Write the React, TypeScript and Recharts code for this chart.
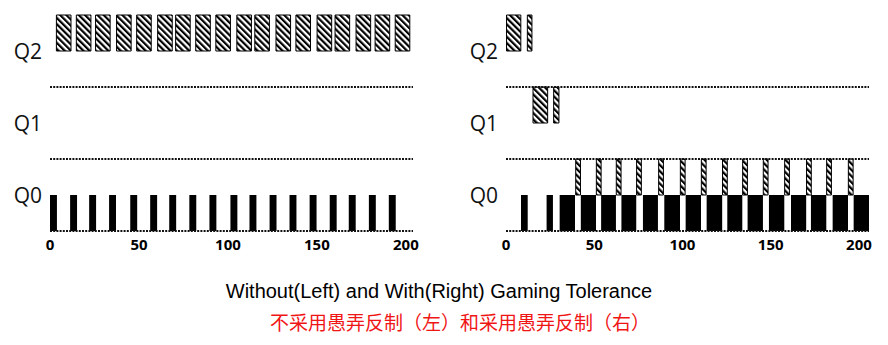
import React from 'react';
import { BarChart, Bar, XAxis, YAxis, Cell, ReferenceLine } from 'recharts';

// time slices as [start, end]; hatched = long-running job, solid = interactive job
const leftQ0Solid = [
  [0, 3.9], [11.3, 15.2], [22.0, 25.9], [33.2, 37.1], [45.1, 49.0], [56.3, 60.2],
  [67.0, 70.9], [78.3, 82.2], [89.6, 93.5], [101.4, 105.3], [112.1, 116.0], [123.4, 127.3],
  [134.6, 138.5], [145.9, 149.8], [157.2, 161.1], [167.9, 171.8], [179.2, 183.1], [190.4, 194.3],
];
const leftQ2Hatch = [
  [3.6, 11.8], [14.8, 23.0], [25.6, 33.8], [37.4, 45.6], [48.7, 56.9], [60.5, 68.7],
  [70.6, 78.8], [81.9, 90.1], [93.2, 101.4], [105.0, 113.2], [115.1, 123.3], [127.0, 135.2],
  [138.2, 146.4], [150.1, 158.3], [160.2, 168.4], [172.0, 180.2], [182.7, 190.9], [194.0, 202.2],
];

const rightQ2Hatch = [[0.3, 8.4], [12.1, 14.7]];
const rightQ1Hatch = [[15.3, 23.6], [27.0, 30.0]];
const rightQ0Solid = [
  [8.5, 12.3], [23.0, 26.6], [30.4, 39.1], [42.4, 51.0], [53.9, 62.3], [65.4, 73.8],
  [77.6, 86.1], [89.7, 98.6], [101.8, 110.5], [113.7, 122.5], [125.4, 133.9], [136.9, 145.6],
  [149.0, 157.7], [161.5, 170.1], [172.8, 181.5], [185.1, 193.8], [197.0, 205.7],
];
const rightQ0Hatch = [
  [39.5, 42.2], [51.2, 53.9], [62.5, 65.2], [74.0, 76.7], [86.5, 89.2], [98.8, 101.5],
  [110.7, 113.4], [122.7, 125.4], [134.1, 136.8], [145.8, 148.5], [157.9, 160.6], [170.3, 173.0],
  [181.7, 184.4], [194.0, 196.7],
];

const xTicks = [0, 50, 100, 150, 200];

type Lane = { id: string; segs: number[][] };

function buildRows(lanes: Lane[]) {
  return lanes.map((l) => {
    const row: any = { lane: l.id };
    let prev = 0;
    l.segs.forEach(([s, e], i) => {
      row['g' + i] = s - prev;
      row['s' + i] = e - s;
      prev = e;
    });
    return row;
  });
}

const QTick = (props: any) => {
  const { x, y, payload } = props;
  const lane = String(payload.value);
  if (!lane.endsWith('h')) return <g />;
  const off = payload.offset ?? 18;
  return (
    <text x={x} y={y + off} textAnchor="end" dominantBaseline="central"
      fontSize={21} fontFamily="Open Sans" fill="#111">
      {lane.slice(0, 2)}
    </text>
  );
};

const dotted = { stroke: '#111', strokeWidth: 2, strokeDasharray: '2 1.2' };

function Timeline({ lanes, max }: { lanes: Lane[]; max: number }) {
  const rows = buildRows(lanes);
  const n = Math.max(...lanes.map((l) => l.segs.length));
  const bars: React.ReactNode[] = [];
  for (let i = 0; i < n; i++) {
    bars.push(
      <Bar key={'g' + i} dataKey={'g' + i} stackId="t" fill="transparent" isAnimationActive={false} />
    );
    bars.push(
      <Bar key={'s' + i} dataKey={'s' + i} stackId="t" isAnimationActive={false}>
        {rows.map((r) =>
          r.lane.endsWith('h')
            ? <Cell key={r.lane} fill="url(#hatch)" stroke="#000" strokeWidth={1} />
            : <Cell key={r.lane} fill="#000" />
        )}
      </Bar>
    );
  }
  return (
    <BarChart width={421} height={261} data={rows} layout="vertical"
      margin={{ top: 15, right: 8, left: 0, bottom: 0 }} barCategoryGap={0} barGap={0}>
      <XAxis type="number" domain={[0, max]} ticks={xTicks} allowDataOverflow
        tickLine={false} axisLine={dotted} height={30}
        tick={{ fill: '#000', fontSize: 15, fontWeight: 700, fontFamily: 'Open Sans' }} />
      <YAxis type="category" dataKey="lane" width={50} axisLine={false} tickLine={false} tick={QTick} />
      <ReferenceLine y="Q1h" position="start" {...dotted} ifOverflow="visible" />
      <ReferenceLine y="Q0h" position="start" {...dotted} ifOverflow="visible" />
      {bars}
    </BarChart>
  );
}

export default function App() {
  const left: Lane[] = [
    { id: 'Q2h', segs: leftQ2Hatch },
    { id: 'Q2b', segs: [] },
    { id: 'Q1h', segs: [] },
    { id: 'Q1b', segs: [] },
    { id: 'Q0h', segs: [] },
    { id: 'Q0b', segs: leftQ0Solid },
  ];
  const right: Lane[] = [
    { id: 'Q2h', segs: rightQ2Hatch },
    { id: 'Q2b', segs: [] },
    { id: 'Q1h', segs: rightQ1Hatch },
    { id: 'Q1b', segs: [] },
    { id: 'Q0h', segs: rightQ0Hatch },
    { id: 'Q0b', segs: rightQ0Solid },
  ];
  return (
    <div style={{ position: 'absolute', left: 0, top: 0, width: 888, height: 345, background: '#fff' }}>
      <svg width={0} height={0} style={{ position: 'absolute' }}>
        <defs>
          <pattern id="hatch" patternUnits="userSpaceOnUse" width={4.4} height={4.4}
            patternTransform="rotate(-45)">
            <rect x={0} y={0} width={4.4} height={4.4} fill="#fff" />
            <rect x={0} y={0} width={2.2} height={4.4} fill="#000" />
          </pattern>
        </defs>
      </svg>
      <div style={{ position: 'absolute', left: 0, top: 0 }}>
        <Timeline lanes={left} max={204} />
      </div>
      <div style={{ position: 'absolute', left: 456, top: 0 }}>
        <Timeline lanes={right} max={205.7} />
      </div>
      <div style={{ position: 'absolute', left: 0, top: 280, width: 878, textAlign: 'center',
        fontFamily: 'Liberation Sans', fontSize: 20, lineHeight: '22px', color: '#000' }}>
        Without(Left) and With(Right) Gaming Tolerance
      </div>
      <div style={{ position: 'absolute', left: 0, top: 311, width: 920, textAlign: 'center',
        fontFamily: 'Noto Sans CJK SC', fontSize: 19, lineHeight: '22px', color: '#f01515' }}>
        不采用愚弄反制（左）和采用愚弄反制（右）
      </div>
    </div>
  );
}
